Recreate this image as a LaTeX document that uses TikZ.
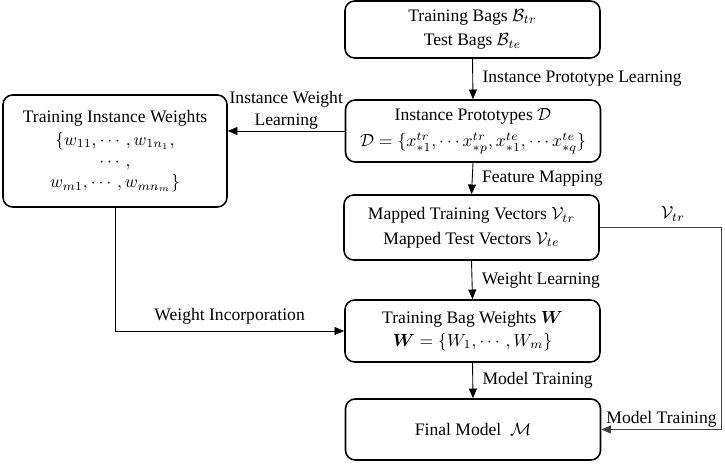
\documentclass[tikz,border=0pt]{standalone}
\usepackage{amsmath}
\usepackage[no-math]{fontspec}
\setmainfont{Liberation Serif}
\usepackage{tikz}
\usetikzlibrary{arrows.meta,positioning}

\begin{document}
\begin{tikzpicture}[
  stagebox/.style={rectangle,rounded corners=5.5pt,draw=black,line width=0.9pt,
    minimum width=5.1cm,minimum height=1.2cm,align=center,inner sep=3pt},
  flow/.style={-{Triangle[length=5.5pt,width=4.5pt]},line width=0.5pt},
  every node/.style={font=\normalsize}
]
\useasboundingbox (0,0) rectangle (14.5,-9.28);
\node[stagebox,minimum height=1.14cm] (bags) at (9.45,-0.59)
  {Training Bags $\mathcal{B}_{tr}$\\[2pt] Test Bags $\mathcal{B}_{te}$};
\node[stagebox,minimum height=1.24cm] (proto) at (9.46,-2.62)
  {Instance Prototypes $\mathcal{D}$\\[3pt]
   $\mathcal{D}=\{x^{tr}_{*1},\cdots x^{tr}_{*p},x^{te}_{*1},\cdots x^{te}_{*q}\}$};
\node[stagebox,minimum height=1.3cm] (mapped) at (9.43,-4.55)
  {Mapped Training Vectors $\mathcal{V}_{tr}$\\[2pt] Mapped Test Vectors $\mathcal{V}_{te}$};
\node[stagebox,minimum height=1.24cm] (bagw) at (9.45,-6.62)
  {Training Bag Weights $\boldsymbol{W}$\\[1pt] $\boldsymbol{W}=\{W_1,\cdots,W_m\}$};
\node[stagebox,minimum height=1.22cm] (model) at (9.46,-8.59)
  {Final Model~ $\mathcal{M}$};
\node[stagebox,minimum width=4.48cm,minimum height=2.24cm] (instw) at (2.3,-3.02)
  {Training Instance Weights\\[1pt] $\{w_{11},\cdots,w_{1n_1},$\\ $\cdots,$\\ $w_{m1},\cdots,w_{mn_m}\}$};

\draw[flow] (bags.south) -- node[right,xshift=2pt]{Instance Prototype Learning} (proto.north);
\draw[flow] (proto.south) -- node[right,xshift=2pt]{Feature Mapping} (mapped.north);
\draw[flow] (mapped.south) -- node[right,xshift=2pt]{Weight Learning} (bagw.north);
\draw[flow] (bagw.south) -- node[right,xshift=2pt]{Model Training} (model.north);
\draw[flow] (proto.west) -- node[above,align=center,inner sep=1pt]{Instance Weight\\Learning} (instw.east |- proto.west);
\draw[flow] (instw.south) |- node[above,pos=.75]{Weight Incorporation} (bagw.west);
\draw[flow,black!75] (mapped.east) -- node[above,pos=.6,text=black]{$\mathcal{V}_{tr}$} ++(2.44,0)
  |- node[above,pos=.75,inner sep=1pt,text=black]{Model Training} (model.east);
\end{tikzpicture}
\end{document}
